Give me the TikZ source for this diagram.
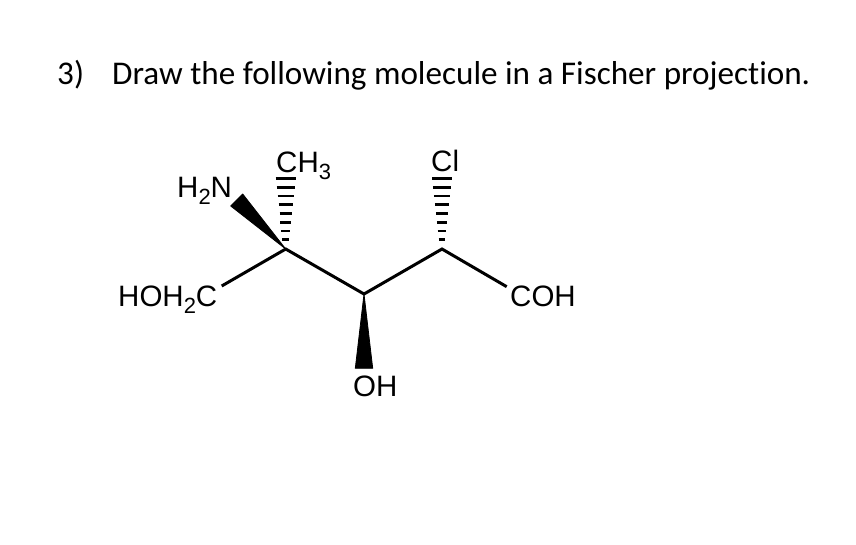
\documentclass[tikz,border=0pt]{standalone}
\usepackage{fontspec}
\setmainfont{Carlito}[Ligatures=CommonOff]
\newfontfamily\chemfont{Liberation Sans}
\newcommand{\subnum}[1]{\raisebox{-0.24em}{\fontsize{22}{22}\selectfont #1}}
\tikzset{
  x=1pt,y=-1pt,
  lbl/.style={inner sep=0pt,anchor=base west,font=\chemfont\fontsize{29.5}{30}\selectfont},
  title/.style={inner sep=0pt,anchor=base west,font=\fontsize{33.15}{34}\selectfont},
  bond/.style={line width=3pt,line cap=butt,line join=miter},
  hashline/.style={line width=2.8pt},
  wedgefill/.style={fill=black,draw=black,line width=0.8pt,line join=round}
}
\begin{document}
\begin{tikzpicture}
\useasboundingbox (0,0) rectangle (856,544);
\node[title] (num) at (57,84) {3)};
\node[title] (txt) at (112,84) {Draw the following molecule in a Fischer projection.};
\coordinate (c1) at (285.7,249);
\coordinate (c2) at (364,294);
\coordinate (c3) at (442,249);
\coordinate (hE) at (221.7,286);
\coordinate (cE) at (506.7,286.7);
\node[lbl] (ch3) at (276,172) {CH\subnum{3}};
\node[lbl] (h2n) at (177,197) {H\subnum{2}N};
\node[lbl] (hoh) at (118,306) {HOH\subnum{2}C};
\node[lbl] (cl) at (431,171) {Cl};
\node[lbl] (coh) at (510,306) {COH};
\node[lbl] (oh) at (353,396) {OH};
\draw[bond] (hE) -- (c1) -- (c2) -- (c3) -- (cE);
\coordinate (na) at (242.7,194);
\coordinate (nb) at (230.7,206);
\filldraw[wedgefill] (c1) -- (na) -- (nb) -- cycle;
\coordinate (oa) at (355.3,368.3);
\coordinate (ob) at (372.7,368.3);
\filldraw[wedgefill] (c2) -- (oa) -- (ob) -- cycle;
\foreach \i in {0,...,7}{
  \pgfmathsetmacro{\yy}{178.5+8.75*\i}
  \pgfmathsetmacro{\hw}{10-\i*0.95}
  \draw[hashline] (285.7-\hw,\yy) -- (285.7+\hw,\yy);
  \draw[hashline] (442-\hw,\yy) -- (442+\hw,\yy);
}
\end{tikzpicture}
\end{document}
